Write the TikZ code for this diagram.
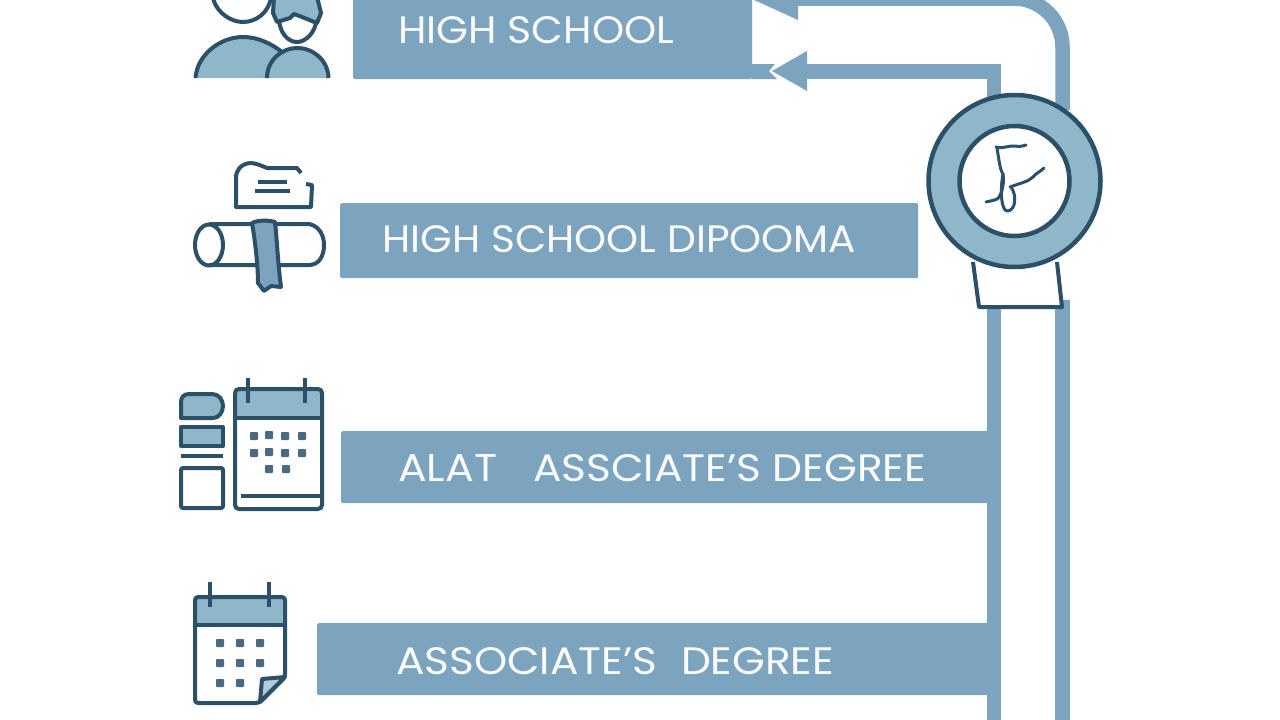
\documentclass[tikz,border=0pt]{standalone}
\usepackage{fontspec}
\usepackage{graphicx}
\setmainfont{Poppins}
\definecolor{barc}{HTML}{7CA4BF}
\definecolor{ink}{HTML}{2C5068}
\definecolor{soft}{HTML}{8FB7C9}
\tikzset{
  barbox/.style={fill=barc,rounded corners=1.5pt,inner sep=0pt,anchor=north west},
  bartext/.style={text=white!96!barc,inner sep=0pt,anchor=base west,font=\fontsize{34}{34}\selectfont},
  pipe/.style={draw=barc,line width=14.5pt},
  icon/.style={draw=ink,line width=4pt,line join=round},
  iconsoft/.style={icon,fill=soft},
  pen/.style={draw=ink,line width=3pt,line cap=round,line join=round},
}
\newcommand{\caldots}[1]{\foreach \x/\y in {#1}{\fill[ink!85!white,rounded corners=.8pt] (\x-4,\y-4) rectangle (\x+4,\y+4);}}
\newcommand{\fitw}[2]{\resizebox{#1pt}{27pt}{#2}}
\begin{document}
\begin{tikzpicture}[x=1pt,y=-1pt]
\useasboundingbox (0,0) rectangle (1280,720);
\clip (0,0) rectangle (1280,720);
\fill[white] (0,0) rectangle (1280,720);

% bars
\node[barbox,minimum width=399pt,minimum height=90pt] (b1) at (353,-11) {};
\node[barbox,minimum width=578pt,minimum height=75pt] (b2) at (340,203) {};
\node[barbox,minimum width=650pt,minimum height=72pt] (b3) at (341,431) {};
\node[barbox,minimum width=674pt,minimum height=72pt] (b4) at (317,623) {};

% named ends of connectors
\coordinate (leftbase) at (994,720);
\coordinate (rightbase) at (1062.5,720);

% pipes
\draw[pipe] (leftbase) -- (994,300);
\draw[pipe] (rightbase) -- (1062.5,300);
\draw[pipe,line join=miter] (994,110) -- (994,71.5) -- (790,71.5);
\draw[pipe] (1062.5,110) -- (1062.5,47) arc[start angle=0,end angle=-90,radius=48.5] -- (795,-1.5);
\fill[barc] (752,64) -- (752,79) -- (778,79) -- (770,71) -- (775,64) -- cycle;
\fill[barc] (807,51) -- (772,71) -- (807,91) -- cycle;
\draw[white,line width=1.2pt] (777,63) -- (770,71) -- (778,79);
\fill[barc] (752,-1) -- (798,20) -- (798,0) -- cycle;

% seal
\draw[icon,fill=white] (973,262) -- (979,307) -- (1062,307) -- (1057,262);
\node[circle,draw=ink,line width=4.5pt,fill=soft,minimum size=172pt,inner sep=0pt] (seal) at (1014.5,181) {};
\node[circle,draw=ink,line width=4.5pt,fill=white,minimum size=110pt,inner sep=0pt] (sealin) at (1014.5,181) {};
\draw[pen] (996,147) .. controls (1004,149) and (1010,145) .. (1015,146) .. controls (1019,147) and (1023,146) .. (1026,145);
\draw[pen] (997,148) .. controls (999,160) and (1000,170) .. (1003,174) .. controls (1005,186) and (1000,198) .. (997,199) .. controls (993,201) and (989,201) .. (986,202);
\draw[pen] (1003,174) .. controls (1000,190) and (1001,210) .. (1007,211) .. controls (1016,211) and (1017,195) .. (1011,187)
  (1010,187) .. controls (1020,183) and (1028,182) .. (1033,177) .. controls (1036,173) and (1040,172) .. (1044,168);

% texts
\node[bartext] (t1) at (398,43) {\fitw{276}{HIGH SCHOOL}};
\node[bartext] (t2) at (382,252) {\fitw{474}{HIGH SCHOOL DIPOOMA}};
\node[bartext] (t3a) at (398,481) {\fitw{99}{ALAT}};
\node[bartext] (t3b) at (533,481) {\fitw{393}{ASSCIATE'S DEGREE}};
\node[bartext] (t4) at (396,674) {\fitw{438}{ASSOCIATE'S\hspace{.3em} DEGREE}};

% icon 1: people
\draw[icon] (213,-2) .. controls (217,14) and (232,22) .. (243,22) .. controls (255,22) and (268,14) .. (271,-2);
\path[fill=soft] (195,78) .. controls (197,55) and (220,37) .. (243,37) .. controls (258,37) and (272,44) .. (282,52) .. controls (300,44) and (327,55) .. (329,78) -- cycle;
\draw[icon] (195.5,78) .. controls (197,55) and (220,37) .. (243,37) .. controls (258,37) and (272,44) .. (282,52);
\draw[icon] (267,78) .. controls (267,60) and (282,48) .. (297,48) .. controls (313,48) and (328,60) .. (328.5,78);
\draw[icon] (279,20) .. controls (280,33) and (288,42) .. (297,42) .. controls (306,42) and (315,32) .. (316,22);
\draw[iconsoft] (274,-3) -- (273,13) -- (277,22) -- (290,18) -- (294,14) -- (302,17) -- (317,23) -- (321,13) -- (317,-3);

% icon 2: diploma
\draw[icon] (301,173) -- (297,168) -- (267,168) .. controls (260,165) and (255,163) .. (250,163) .. controls (241,164) and (236,170) .. (236,178) -- (236,207) -- (311,207) -- (312,185) -- (306,184);
\draw[icon] (258,182) -- (287,182) (255,191) -- (290,191);
\draw[icon] (209,224) -- (309,224) .. controls (319,226) and (324,235) .. (324,245) .. controls (324,256) and (319,265) .. (309,265) -- (209,265);
\draw[icon] (209,245) ellipse[x radius=14,y radius=20.5];
\draw[icon,fill=barc] (252,223) .. controls (258,220) and (268,220) .. (275,222) .. controls (277,240) and (278,265) .. (281,287) -- (271,286) -- (264,291) -- (258,283) .. controls (258,265) and (255,240) .. (252,223) -- cycle;

% icon 3: stack and calendar
\draw[iconsoft] (181,418) -- (181,402) .. controls (181,397) and (184,394) .. (189,394) -- (212,394) .. controls (219,394) and (223,400) .. (223,406) .. controls (223,412) and (219,418) .. (213,418) -- cycle;
\draw[iconsoft] (181,427) rectangle (223,446);
\draw[icon] (181,456) -- (223,456);
\draw[icon,rounded corners=2pt] (181,468) rectangle (223,508);
\fill[soft,rounded corners=2pt] (236,390) rectangle (321,418);
\draw[icon,rounded corners=4pt] (235,389) rectangle (322,509);
\draw[icon] (235,418) -- (322,418);
\draw[icon] (248,378) -- (248,403) (305,378) -- (305,403);
\draw[icon] (241,496) -- (320,496);
\caldots{254/436,269/435,285/436,302/436,254/453,269/452,285/453,302/453,269/469,286/469}

% icon 4: calendar
\fill[soft,rounded corners=2pt] (196,598) rectangle (284,625);
\draw[icon,rounded corners=3pt] (195,597) -- (285,597) -- (285,677) -- (259,703) -- (195,703) -- cycle;
\draw[icon] (195,625) -- (285,625);
\draw[icon] (210,582) -- (210,607) (269,582) -- (269,607);
\draw[icon,fill=soft!70!white,line join=round] (285,677) -- (262,679) -- (260,702) -- cycle;
\caldots{220/643,240/643,260/643,220/663,240/663,260/663,220/683,240/683}
\end{tikzpicture}
\end{document}
